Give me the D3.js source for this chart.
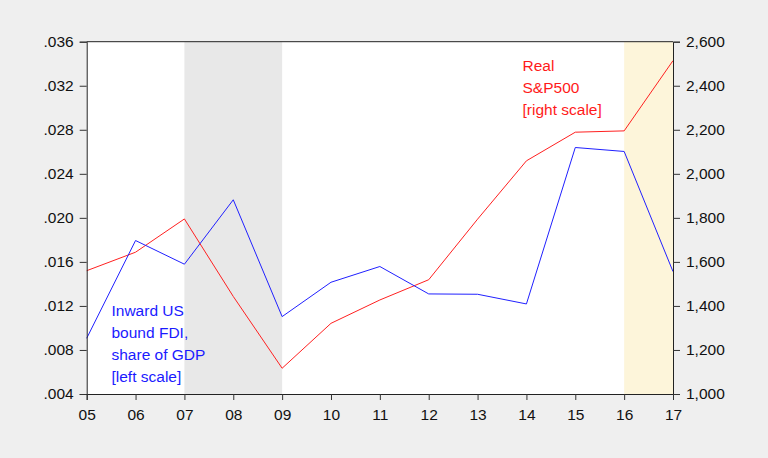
<!DOCTYPE html>
<html><head><meta charset="utf-8">
<script src="https://cdn.jsdelivr.net/npm/d3@7"></script>
<style>body{margin:0;background:#efefef;}svg{display:block;font-family:"Liberation Sans",Arial,sans-serif;}</style>
</head><body>
<svg id="c" width="768" height="458"></svg>
<script>
const years = [2005,2006,2007,2008,2009,2010,2011,2012,2013,2014,2015,2016,2017];
const fdiShare = [0.00906,0.01794,0.01579,0.02164,0.01103,0.01415,0.01558,0.01309,0.01306,0.01218,0.02639,0.02603,0.01512];
const realSP500 = [1560,1644,1795,1443,1117,1321,1427,1519,1794,2059,2189,2195,2514];
const leftTicks = [0.004,0.008,0.012,0.016,0.020,0.024,0.028,0.032,0.036];
const rightTicks = [1000,1200,1400,1600,1800,2000,2200,2400,2600];
const shades = [[2007,2009,"#e8e8e8"],[2016,2017,"#fdf5da"]];
const fdiLabel = ["Inward US","bound FDI,","share of GDP","[left scale]"];
const spLabel = ["Real","S&P500","[right scale]"];

const L=86.7,R=673,T=41.7,B=394;
const svg=d3.select("#c");
const x=d3.scaleLinear().domain([2005,2017]).range([L,R]);
const yL=d3.scaleLinear().domain([0.004,0.036]).range([B,T]);
const yR=d3.scaleLinear().domain([1000,2600]).range([B,T]);

svg.append("rect").attr("x",L).attr("y",T).attr("width",R-L).attr("height",B-T).attr("fill","#fff");
svg.selectAll("rect.sh").data(shades).join("rect").attr("class","sh")
  .attr("x",d=>x(d[0])).attr("y",T).attr("width",d=>x(d[1])-x(d[0])).attr("height",B-T).attr("fill",d=>d[2]);

const line=(ys,sc)=>d3.line().x((d,i)=>x(years[i])).y(d=>sc(d))(ys);
svg.append("path").attr("d",line(realSP500,yR)).attr("fill","none").attr("stroke","#ff2020").attr("stroke-width",1);
svg.append("path").attr("d",line(fdiShare,yL)).attr("fill","none").attr("stroke","#2020ff").attr("stroke-width",1);

const fmtL=d=>d3.format(".3f")(d).replace(/^0/,"");
const axL=d3.axisLeft(yL).tickValues(leftTicks).tickFormat(fmtL).tickSizeOuter(0).tickSize(7).tickPadding(6);
const axR=d3.axisRight(yR).tickValues(rightTicks).tickFormat(d3.format(",")).tickSizeOuter(0).tickSize(7).tickPadding(6);
const axB=d3.axisBottom(x).tickValues(years).tickFormat(d=>String(d%100).padStart(2,"0")).tickSizeOuter(0).tickSize(6).tickPadding(9);
function style(g){g.selectAll("text").attr("font-size",15.5).attr("fill","#111").attr("font-family","Liberation Sans, Arial, sans-serif");
  g.selectAll("line").attr("stroke","#333");g.select(".domain").attr("stroke","#222");}
svg.append("g").attr("transform",`translate(${L},0)`).call(axL).call(style);
svg.append("g").attr("transform",`translate(${R},0)`).call(axR).call(style);
svg.append("g").attr("transform",`translate(0,${B})`).call(axB).call(style);
svg.append("line").attr("x1",L).attr("x2",R).attr("y1",T).attr("y2",T).attr("stroke","#222");

svg.append("g").selectAll("text").data(fdiLabel).join("text")
  .attr("x",111.5).attr("y",(d,i)=>315.7+i*22).attr("fill","#1a1aff").attr("font-size",15.5).text(d=>d);
svg.append("g").selectAll("text").data(spLabel).join("text")
  .attr("x",522.5).attr("y",(d,i)=>70.7+i*22).attr("fill","#ff1a1a").attr("font-size",15.5).text(d=>d);
</script>
</body></html>
